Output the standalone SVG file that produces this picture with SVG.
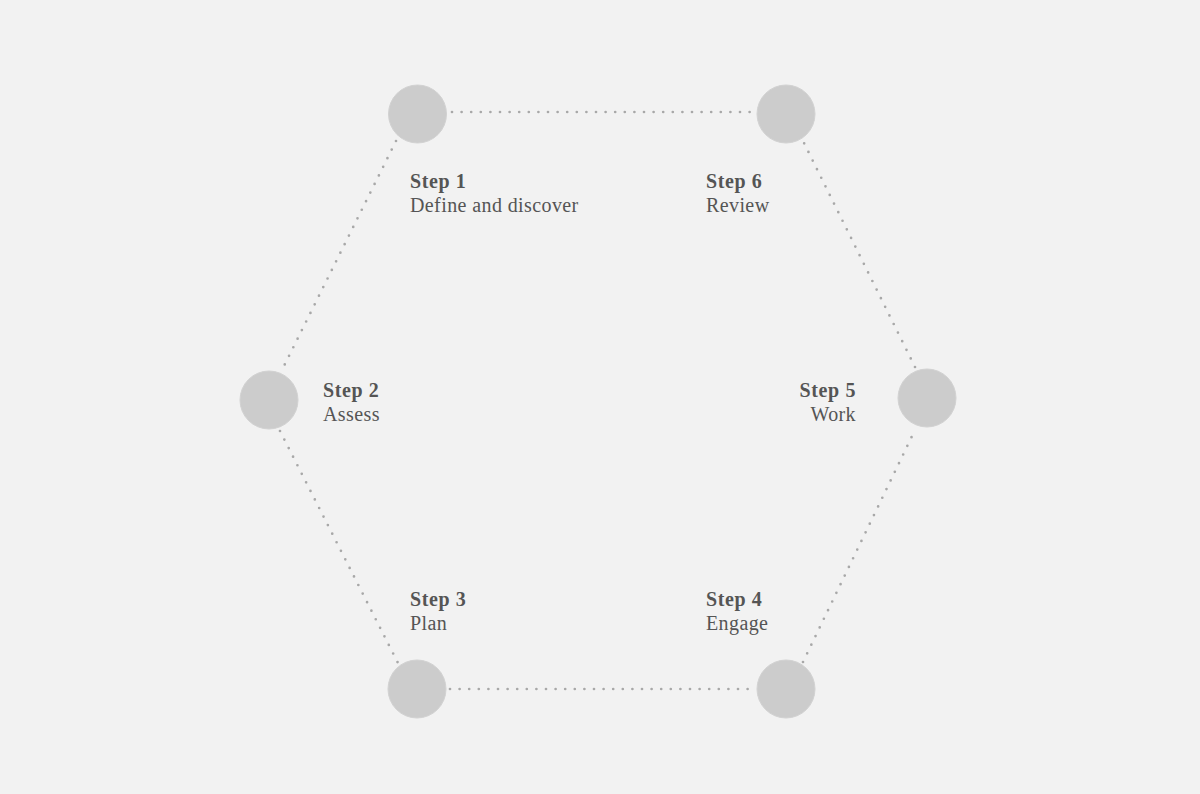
<svg xmlns="http://www.w3.org/2000/svg" width="1200" height="794" viewBox="0 0 1200 794">
<style>
.bg{fill:#f2f2f2}
.node{fill:#cccccc;stroke:#d2d2d2;stroke-width:1}
.edge{stroke:#a8a8a8;stroke-width:2.7;stroke-linecap:round;stroke-dasharray:0 9.6;fill:none}
.t{font-family:"Liberation Serif","DejaVu Serif",serif;font-size:20px;letter-spacing:0.4px;fill:#555555}
.b{font-weight:bold;letter-spacing:0.6px}
.r{text-anchor:end}
</style>
<rect class="bg" x="0" y="0" width="1200" height="794"/>
<g id="connectors">
<line class="edge" x1="452" y1="112" x2="752" y2="112"/>
<line class="edge" x1="396" y1="141" x2="283" y2="368"/>
<line class="edge" x1="280" y1="431" x2="398" y2="663"/>
<line class="edge" x1="450" y1="689" x2="752" y2="689"/>
<line class="edge" x1="803" y1="662" x2="915" y2="430"/>
<line class="edge" x1="915" y1="367" x2="803" y2="141"/>
</g>
<g id="step1"><circle class="node" cx="417.5" cy="114" r="29"/><text class="t b" x="410" y="188">Step 1</text><text class="t" x="410" y="212">Define and discover</text></g>
<g id="step2"><circle class="node" cx="269" cy="400" r="29"/><text class="t b" x="323" y="397">Step 2</text><text class="t" x="323" y="421">Assess</text></g>
<g id="step3"><circle class="node" cx="417" cy="689" r="29"/><text class="t b" x="410" y="606">Step 3</text><text class="t" x="410" y="630">Plan</text></g>
<g id="step4"><circle class="node" cx="786" cy="689" r="29"/><text class="t b" x="706" y="606">Step 4</text><text class="t" x="706" y="630">Engage</text></g>
<g id="step5"><circle class="node" cx="927" cy="398" r="29"/><text class="t b r" x="856" y="397">Step 5</text><text class="t r" x="856" y="421">Work</text></g>
<g id="step6"><circle class="node" cx="786" cy="114" r="29"/><text class="t b" x="706" y="188">Step 6</text><text class="t" x="706" y="212">Review</text></g>
</svg>
